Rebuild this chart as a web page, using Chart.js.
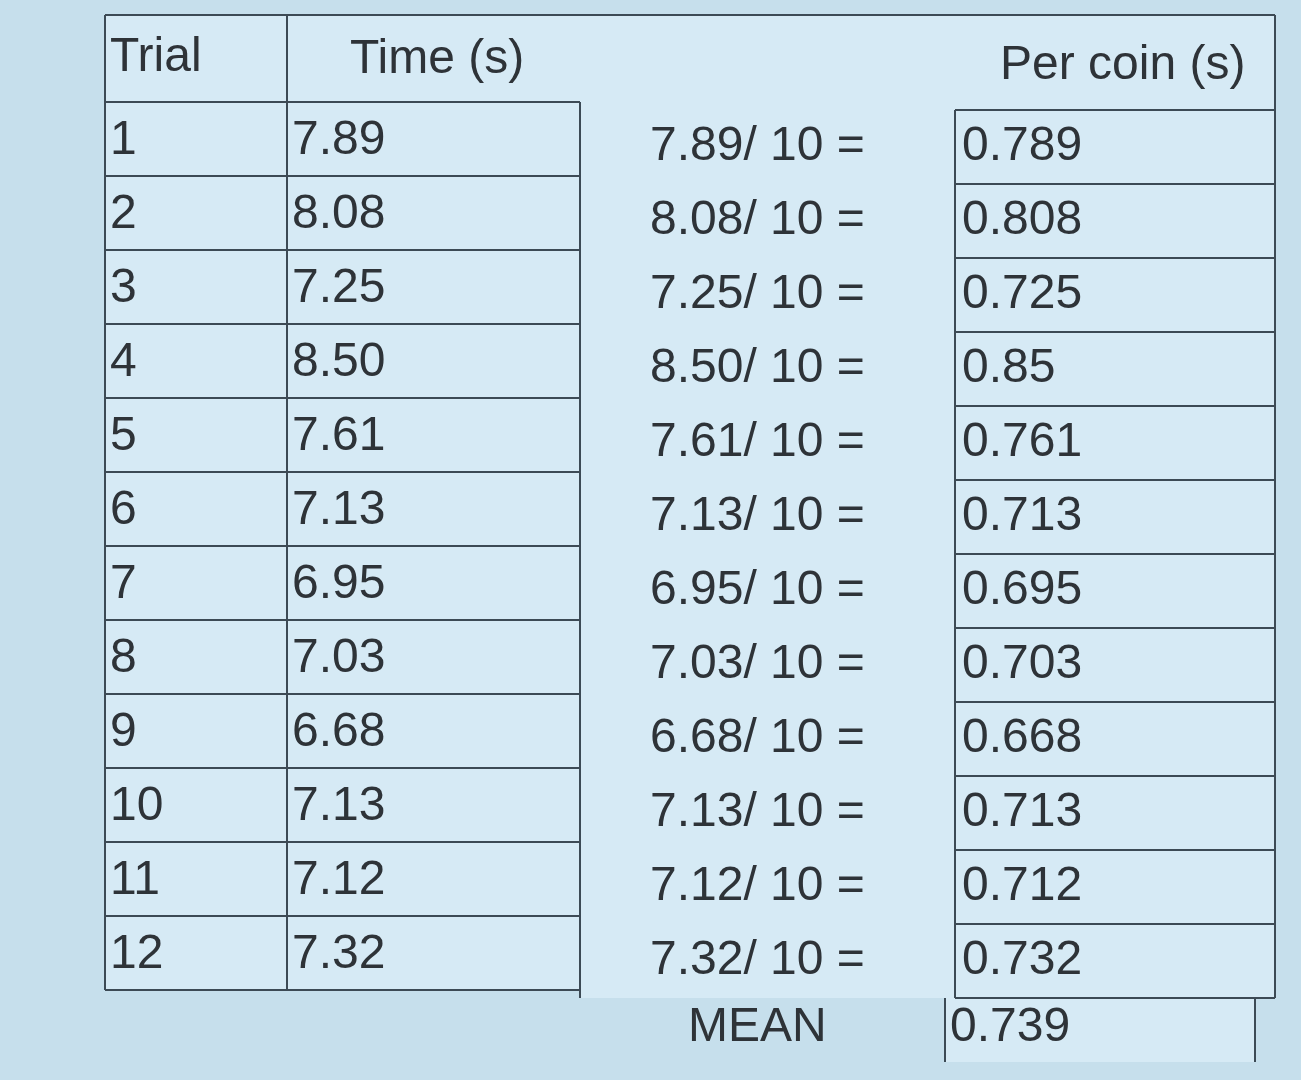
<!DOCTYPE html>
<html>
<head>
<meta charset="utf-8">
<script src="https://cdn.jsdelivr.net/npm/chart.js@4.4.0/dist/chart.umd.min.js"></script>
<style>
  html, body { margin: 0; padding: 0; background: #c6dfec; }
  #wrap { width: 1301px; height: 1080px; }
</style>
</head>
<body>
<div id="wrap"><canvas id="tableChart"></canvas></div>
<script>
// data
const trials = ['1', '2', '3', '4', '5', '6', '7', '8', '9', '10', '11', '12'];
const times = ['7.89', '8.08', '7.25', '8.50', '7.61', '7.13', '6.95', '7.03', '6.68', '7.13', '7.12', '7.32'];
const perCoin = ['0.789', '0.808', '0.725', '0.85', '0.761', '0.713', '0.695', '0.703', '0.668', '0.713', '0.712', '0.732'];
const headers = ['Trial', 'Time (s)', 'Per coin (s)'];
const divisor = 10;
const meanLabel = 'MEAN';
const meanValue = '0.739';

// column edges and row heights (layout, in axis units)
const colEdges = [105, 287, 580, 955, 1275];
const headerTop = 15, headerBottom = 102, rowH = 74;

const tablePlugin = {
  id: 'table',
  afterDraw(chart) {
    const ctx = chart.ctx;
    const xs = chart.scales.x, ys = chart.scales.y;
    const X = v => xs.getPixelForValue(v);
    const Y = v => ys.getPixelForValue(v);
    const rowTop = i => headerBottom + i * rowH;
    const meanTop = rowTop(12) + 8;
    ctx.save();
    // cell fills
    ctx.fillStyle = '#d6eaf5';
    ctx.fillRect(X(colEdges[0]), Y(headerTop), X(colEdges[4]) - X(colEdges[0]), Y(rowTop(12)) - Y(headerTop));
    ctx.fillRect(X(colEdges[2]), Y(rowTop(12)), X(colEdges[4]) - X(colEdges[2]), Y(meanTop) - Y(rowTop(12)));
    ctx.fillRect(X(945), Y(meanTop), X(1255) - X(945), Y(1062) - Y(meanTop));
    ctx.strokeStyle = '#3c4a55';
    ctx.lineWidth = 2;
    const line = (x1, y1, x2, y2) => { ctx.beginPath(); ctx.moveTo(X(x1), Y(y1)); ctx.lineTo(X(x2), Y(y2)); ctx.stroke(); };
    // header
    line(colEdges[0], headerTop, colEdges[4], headerTop);
    line(colEdges[0], headerTop, colEdges[0], rowTop(12));
    line(colEdges[1], headerTop, colEdges[1], rowTop(12));
    line(colEdges[2], headerBottom, colEdges[2], rowTop(12));
    line(colEdges[4], headerTop, colEdges[4], meanTop);
    line(colEdges[3], headerBottom + 8, colEdges[3], meanTop);
    line(colEdges[0], headerBottom, colEdges[2], headerBottom);
    line(colEdges[3], headerBottom + 8, colEdges[4], headerBottom + 8);
    // row lines
    for (let i = 1; i <= 12; i++) {
      line(colEdges[0], rowTop(i), colEdges[2], rowTop(i));
      line(colEdges[3], rowTop(i) + 8, colEdges[4], rowTop(i) + 8);
    }
    line(colEdges[2], rowTop(12), colEdges[2], meanTop);
    line(945, meanTop, 945, 1062);
    line(1255, meanTop, 1255, 1062);

    ctx.fillStyle = '#2e3338';
    ctx.textBaseline = 'middle';
    ctx.font = '48px "Liberation Sans", Arial, sans-serif';
    ctx.textAlign = 'left';
    ctx.fillText(headers[0], X(110), Y(58));
    ctx.fillText(headers[1], X(350), Y(60));
    ctx.fillText(headers[2], X(1000), Y(66));
    trials.forEach((t, i) => {
      const cy = Y(rowTop(i) + rowH / 2 + 2);
      ctx.textAlign = 'left';
      ctx.fillText(t, X(110), cy);
      ctx.fillText(times[i], X(292), cy);
      ctx.fillText(times[i] + '/ ' + divisor + ' =', X(650), cy + 6);
      ctx.fillText(perCoin[i], X(962), cy + 6);
    });
    ctx.textAlign = 'left';
    ctx.fillText(meanLabel, X(688), Y(1028));
    ctx.fillText(meanValue, X(950), Y(1028));
    ctx.restore();
  }
};

new Chart(document.getElementById('tableChart'), {
  type: 'scatter',
  data: { datasets: [{ data: [], pointRadius: 0 }] },
  options: {
    responsive: true,
    maintainAspectRatio: false,
    animation: false,
    layout: { padding: 0 },
    plugins: { legend: { display: false }, tooltip: { enabled: false } },
    scales: {
      x: { type: 'linear', min: 0, max: 1301, display: false },
      y: { type: 'linear', min: 0, max: 1080, reverse: true, display: false }
    }
  },
  plugins: [tablePlugin]
});
</script>
</body>
</html>
